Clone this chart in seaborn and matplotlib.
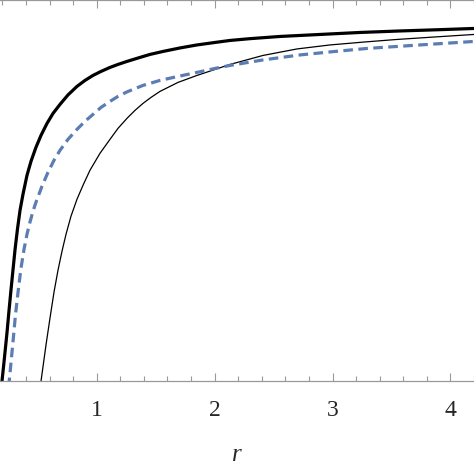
import matplotlib
matplotlib.use("Agg")
import matplotlib.pyplot as plt
import seaborn as sns
from matplotlib.ticker import MultipleLocator

# values (arbitrary y units)
r_thick = [0.155, 0.197, 0.214, 0.239, 0.256, 0.273, 0.290, 0.307, 0.328, 0.350, 0.375,
           0.409, 0.443, 0.485, 0.528, 0.579, 0.630, 0.689, 0.757, 0.833, 0.901, 0.969,
           1.037, 1.113, 1.181, 1.257, 1.367, 1.452, 1.563, 1.707, 1.851, 2.004, 2.131,
           2.301, 2.555, 2.725, 2.979, 3.234, 3.573, 3.912, 4.200]
y_thick = [-0.48, 0.00, 0.19, 0.48, 0.70, 0.91, 1.11, 1.31, 1.52, 1.71, 1.87,
           2.06, 2.20, 2.34, 2.46, 2.58, 2.68, 2.77, 2.865, 2.95, 3.01, 3.06,
           3.10, 3.14, 3.17, 3.20, 3.24, 3.27, 3.30, 3.335, 3.365, 3.39, 3.41,
           3.428, 3.45, 3.46, 3.475, 3.49, 3.505, 3.518, 3.53]

r_dash = [0.214, 0.256, 0.290, 0.311, 0.333, 0.358, 0.384, 0.409, 0.434, 0.460, 0.485,
          0.536, 0.587, 0.638, 0.689, 0.757, 0.833, 0.901, 0.969, 1.037, 1.113, 1.181,
          1.257, 1.393, 1.537, 1.690, 1.851, 2.004, 2.131, 2.411, 2.725, 2.979, 3.293,
          3.742, 4.200]
y_dash = [-0.51, -0.03, 0.39, 0.66, 0.89, 1.13, 1.32, 1.47, 1.59, 1.70, 1.79,
          1.95, 2.09, 2.21, 2.31, 2.42, 2.52, 2.60, 2.67, 2.74, 2.80, 2.85,
          2.895, 2.96, 3.01, 3.05, 3.09, 3.13, 3.16, 3.215, 3.265, 3.295, 3.33,
          3.365, 3.40]

r_thin = [0.468, 0.528, 0.570, 0.604, 0.638, 0.672, 0.706, 0.740, 0.782, 0.833, 0.884,
          0.943, 1.028, 1.113, 1.181, 1.257, 1.325, 1.393, 1.461, 1.537, 1.690, 1.851,
          2.004, 2.131, 2.411, 2.699, 2.979, 3.276, 3.547, 3.870, 4.200]
y_thin = [-0.49, 0.00, 0.36, 0.63, 0.89, 1.11, 1.30, 1.47, 1.65, 1.82, 1.96,
          2.11, 2.28, 2.42, 2.53, 2.63, 2.71, 2.78, 2.84, 2.90, 2.99, 3.06,
          3.12, 3.17, 3.26, 3.325, 3.365, 3.395, 3.42, 3.445, 3.47]

x_ticks = [1, 2, 3, 4]

sns.set_style("white")
plt.rcParams['font.family'] = ['Liberation Serif', 'DejaVu Serif']

fig = plt.figure(figsize=(4.74, 4.74), dpi=100)
ax = fig.add_axes([0, 93 / 474, 1, 380.5 / 474])

sns.lineplot(x=r_thin, y=y_thin, ax=ax, color='black', linewidth=0.9,
             estimator=None, sort=False, solid_joinstyle='round')
sns.lineplot(x=r_dash, y=y_dash, ax=ax, color='#5b7db3', linewidth=2.3,
             linestyle=(0, (3.0, 1.7)), estimator=None, sort=False,
             dash_joinstyle='round')
sns.lineplot(x=r_thick, y=y_thick, ax=ax, color='black', linewidth=2.3,
             estimator=None, sort=False, solid_joinstyle='round')

ax.set_xlim(0.18, 4.2)
ax.set_ylim(0, 3.81)

for side in ['left', 'right']:
    ax.spines[side].set_visible(False)
for side in ['top', 'bottom']:
    ax.spines[side].set_color('#999999')
    ax.spines[side].set_linewidth(0.9)

ax.set_xticks(x_ticks)
ax.xaxis.set_minor_locator(MultipleLocator(0.2))
ax.set_yticks([])
ax.tick_params(axis='x', which='major', direction='in', length=6, width=0.8,
               color='#999999', top=True, bottom=True, labelsize=17, pad=14)
ax.tick_params(axis='x', which='minor', direction='in', length=3.5, width=0.8,
               color='#999999', top=True, bottom=True)

ax.set_xlabel('r', fontsize=18, fontstyle='italic', labelpad=16)

plt.savefig('out.png', dpi=100)
plt.close()
